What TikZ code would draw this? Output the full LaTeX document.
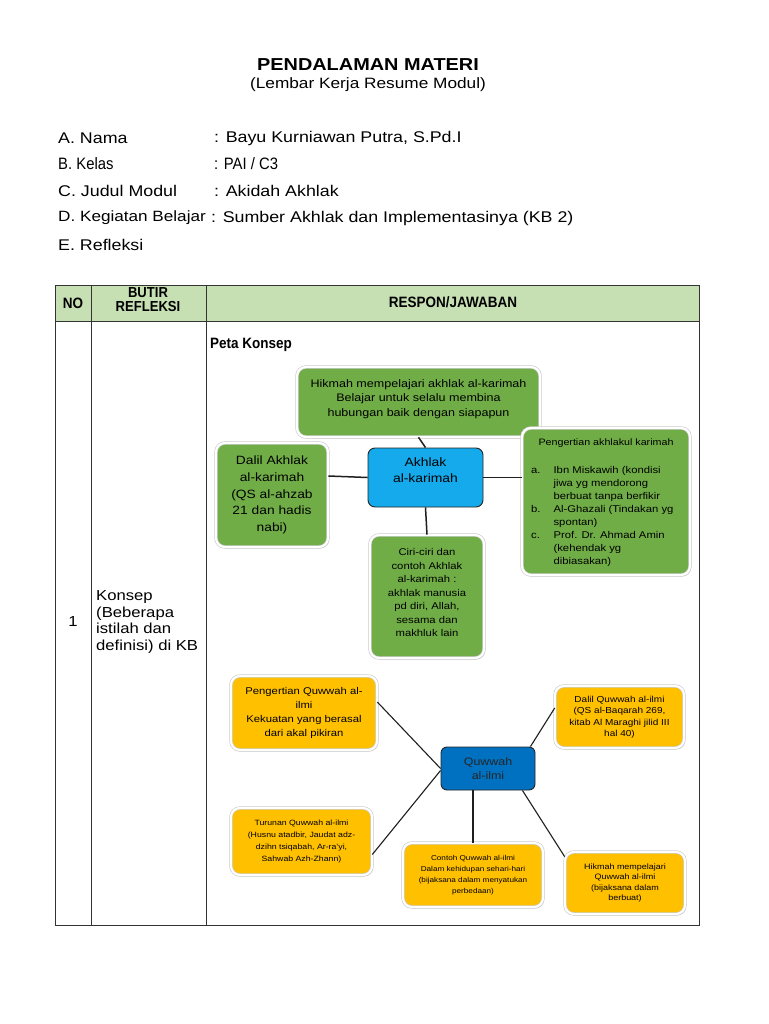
\documentclass[tikz,border=0pt]{standalone}
\usepackage{fontspec}
\setmainfont{Liberation Sans}[FakeStretch=1.15]
\newfontfamily\narrowfont{Liberation Sans}[FakeStretch=0.9]
\usetikzlibrary{shadows,calc}
\definecolor{hdrgreen}{RGB}{198,224,180}
\definecolor{mgreen}{RGB}{112,173,71}
\definecolor{lblue}{RGB}{20,170,235}
\definecolor{dblue}{RGB}{0,112,192}
\definecolor{morange}{RGB}{255,192,0}
\newcommand{\fsz}[2]{\fontsize{#1}{#2}\selectfont}
\begin{document}
\begin{tikzpicture}[x=1pt,y=-1pt,
  mbox/.style={rounded corners=9pt, draw=black!22, line width=0.6pt, double=white, double distance=2.2pt,
    align=center, inner sep=2pt,
    drop shadow={shadow xshift=1.2pt,shadow yshift=-1.4pt,fill=black!40,opacity=.45}},
  gbox/.style={mbox, fill=mgreen},
  obox/.style={mbox, fill=morange},
  cbox/.style={rounded corners=7pt, draw=black!85, line width=0.9pt, align=center, inner sep=2pt},
  conn/.style={draw=black!88, line width=1.5pt},
  oconn/.style={draw=black!88, line width=1.1pt},
  tbl/.style={draw=black!80, line width=0.8pt},
  plain/.style={inner sep=0pt, anchor=west}
]
\useasboundingbox (0,0) rectangle (768,1024);
\fill[white] (0,0) rectangle (768,1024);

% Title
\node[font=\fsz{17.3}{20}\bfseries] (title) at (368,65) {PENDALAMAN MATERI};
\node[font=\fsz{15}{18}] (subtitle) at (368,85) {(Lembar Kerja Resume Modul)};

% Identity
\node[plain, font=\fsz{15.5}{18}] (la) at (58,138) {A. Nama};
\node[plain, font=\fsz{15.5}{18}] (ra) at (214,138) {: Bayu Kurniawan Putra, S.Pd.I};
\node[plain, font=\narrowfont\fsz{16.5}{18}] (lb) at (58,164) {B. Kelas};
\node[plain, font=\narrowfont\fsz{16.5}{18}] (rb) at (214,164) {: PAI / C3};
\node[plain, font=\fsz{15.5}{18}] (lc) at (58,191) {C. Judul Modul};
\node[plain, font=\fsz{15.5}{18}] (rc) at (214,191) {: Akidah Akhlak};
\node[plain, font=\fsz{14.9}{18}] (ld) at (58,218) {D. Kegiatan Belajar};
\node[plain, font=\fsz{15.5}{18}] (rd) at (211,218) {: Sumber Akhlak dan Implementasinya (KB 2)};
\node[plain, font=\fsz{15.5}{18}] (le) at (58,245) {E. Refleksi};

% Table
\fill[hdrgreen] (55,285) rectangle (699,321);
\draw[tbl] (55,285) rectangle (699,925);
\draw[tbl] (91,285) -- (91,925);
\draw[tbl] (206,285) -- (206,925);
\draw[tbl] (55,321) -- (699,321);
\node[font=\narrowfont\fsz{15}{17}\bfseries] (hno) at (73,303) {NO};
\node[align=center, font=\narrowfont\fsz{14.5}{14}\bfseries] (hbutir) at (148,300) {BUTIR\\REFLEKSI};
\node[font=\narrowfont\fsz{15}{17}\bfseries] (hresp) at (453,302) {RESPON/JAWABAN};
\node[font=\fsz{14.5}{17}] (rno) at (73,622) {1};
\node[plain, align=left, font=\fsz{14.5}{16.7}] (rbut) at (96,622) {Konsep\\(Beberapa\\istilah dan\\definisi) di KB};
\node[plain, font=\narrowfont\fsz{15}{17}\bfseries] (peta) at (210,345) {Peta Konsep};

% Mind map 1
\node[gbox, minimum width=243, minimum height=70, font=\fsz{10.9}{14.5}] (hk) at (418.5,402)
  {Hikmah mempelajari akhlak al-karimah\\Belajar untuk selalu membina\\hubungan baik dengan siapapun\\[-6.5pt]};
\node[cbox, fill=lblue, minimum width=115, minimum height=59, font=\fsz{12.1}{16}] (akh) at (425.5,477.5)
  {Akhlak\\al-karimah\\[-2pt]};
\node[gbox, minimum width=112, minimum height=104, font=\fsz{12}{16.8}] (dal) at (272,495)
  {Dalil Akhlak\\al-karimah\\(QS al-ahzab\\21 dan hadis\\nabi)};
\node[gbox, minimum width=168, minimum height=147] (pen) at (606,501.5) {};
\node[inner sep=0pt, font=\fsz{9.3}{12}] (pentitle) at (606,443) {Pengertian akhlakul karimah};
\node[inner sep=0pt, anchor=north west, font=\fsz{9.8}{13}] (penlist) at (531,464)
  {\begin{tabular}{@{}l@{\hspace{13pt}}l@{}}
  a. & Ibn Miskawih (kondisi\\ & jiwa yg mendorong\\ & berbuat tanpa berfikir\\
  b. & Al-Ghazali (Tindakan yg\\ & spontan)\\
  c. & Prof. Dr. Ahmad Amin\\ & (kehendak yg\\ & dibiasakan)\end{tabular}};
\node[gbox, minimum width=114, minimum height=123, font=\fsz{9.8}{13.5}] (ciri) at (427,596.5)
  {Ciri-ciri dan\\contoh Akhlak\\al-karimah :\\akhlak manusia\\pd diri, Allah,\\sesama dan\\makhluk lain\\[-5.5pt]};

\draw[conn] (hk.south) -- (akh.north);
\draw[conn] ([yshift=19pt]dal.east) -- (akh.west);
\draw[conn] (akh.east) -- (akh.east -| pen.west);
\draw[conn] (akh.south) -- (ciri.north);

% Mind map 2
\node[obox, minimum width=146, minimum height=74, font=\fsz{9.8}{13.7}] (peng) at (304,713)
  {Pengertian Quwwah al-\\ilmi\\Kekuatan yang berasal\\dari akal pikiran};
\node[obox, minimum width=129, minimum height=62, font=\fsz{8.7}{11.5}] (dq) at (619.5,717)
  {Dalil Quwwah al-ilmi\\(QS al-Baqarah 269,\\kitab Al Maraghi jilid III\\hal 40)};
\node[cbox, fill=dblue, minimum width=94, minimum height=43, rounded corners=6pt, font=\fsz{10.8}{14}, text=black!85] (quw) at (488,768.5)
  {Quwwah\\al-ilmi};
\node[obox, minimum width=141, minimum height=67, font=\fsz{7.6}{12}] (tur) at (301.5,841.5)
  {Turunan Quwwah al-ilmi\\(Husnu atadbir, Jaudat adz-\\dzihn tsiqabah, Ar-ra’yi,\\Sahwab Azh-Zhann)};
\node[obox, minimum width=140, minimum height=64, font=\fsz{7.1}{10.8}] (con) at (473,875)
  {Contoh Quwwah al-ilmi\\Dalam kehidupan sehari-hari\\(bijaksana dalam menyatukan\\perbedaan)};
\node[obox, minimum width=120, minimum height=62, font=\fsz{7.8}{10.6}] (hq) at (625,883)
  {Hikmah mempelajari\\Quwwah al-ilmi\\(bijaksana dalam\\berbuat)};

\draw[oconn] ([yshift=11pt]peng.east) -- (quw.west);
\draw[oconn] ([yshift=9pt]dq.west) -- ([xshift=-5pt]quw.north east);
\draw[oconn] ([yshift=-13pt]tur.east) -- ([yshift=-2pt]quw.west);
\draw[oconn] (quw.south -| con.north) -- (con.north);
\draw[oconn] ([xshift=-13pt]quw.south east) -- ([yshift=-5pt]hq.north west);
\end{tikzpicture}
\end{document}
